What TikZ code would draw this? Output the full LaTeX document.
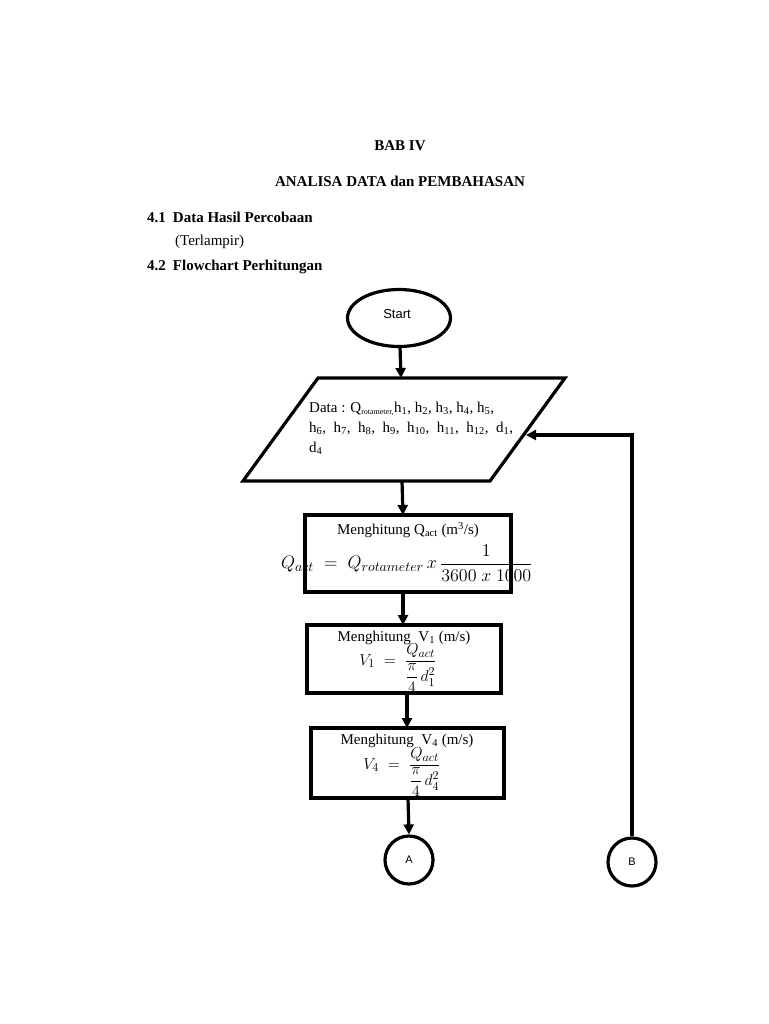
\documentclass[tikz,border=0pt]{standalone}
\usepackage{fontspec}
\setmainfont{Liberation Serif}
\setsansfont{Liberation Sans}
\usepackage{amsmath}
\usepackage{graphicx}
\usetikzlibrary{shapes.geometric,arrows.meta}
\begin{document}
\begin{tikzpicture}[x=1pt,y=-1pt,
  every node/.style={font=\fontsize{15}{18}\selectfont},
  ln/.style={line width=3.2pt},
  arr/.style={ln,-{Triangle[length=10pt,width=10pt]}}]
\useasboundingbox (0,0) rectangle (768,1024);
\node[font=\fontsize{15}{18}\selectfont\bfseries] (t1) at (400,146) {BAB IV};
\node[font=\fontsize{15}{18}\selectfont\bfseries] (t2) at (400,181) {ANALISA DATA dan PEMBAHASAN};
\node[anchor=west,font=\fontsize{15}{18}\selectfont\bfseries,inner sep=0] (s1) at (147,217) {4.1\hspace{7pt}Data Hasil Percobaan};
\node[anchor=west,inner sep=0] (s1b) at (175,242) {(Terlampir)};
\node[anchor=west,font=\fontsize{15}{18}\selectfont\bfseries,inner sep=0] (s2) at (147,267) {4.2\hspace{7pt}Flowchart Perhitungan};
% start
\draw[ln] (399,318) ellipse [x radius=51.5, y radius=28.5];
\node[font=\sffamily\fontsize{13}{15}\selectfont] (start) at (397,314) {Start};
\coordinate (sb) at (400,346.5);
% parallelogram
\draw[ln] (318,378) -- (565,378) -- (490,481) -- (243,481) -- cycle;
\coordinate (pt) at (401,378);
\coordinate (pb) at (402,481);
\coordinate (pr) at (526,435);
\node[anchor=north west,align=left,inner sep=0,font=\fontsize{15}{20}\selectfont] (data) at (309,402)
 {Data : Q\textsubscript{\fontsize{8}{8}\selectfont rotameter,}h\textsubscript{1}, h\textsubscript{2}, h\textsubscript{3}, h\textsubscript{4}, h\textsubscript{5},\\
 h\textsubscript{6}, \ h\textsubscript{7}, \ h\textsubscript{8}, \ h\textsubscript{9}, \ h\textsubscript{10}, \ h\textsubscript{11}, \ h\textsubscript{12}, \ d\textsubscript{1},\\
 d\textsubscript{4}};
% boxes
\draw[ln] (305,515) rectangle (511,592);
\node (m1) at (408,530) {Menghitung Q\textsubscript{act} (m\textsuperscript{3}/s)};
\node (f1) at (407,563) {\scalebox{1.25}{$Q_{act}\;=\;Q_{rotameter}\,x\,\dfrac{1}{3600\ x\ 1000}$}};
\draw[ln] (307,625) rectangle (501,693);
\node (m2) at (404,638) {Menghitung \ V\textsubscript{1} (m/s)};
\node (f2) at (398,668) {\scalebox{1.1}{$V_1\;=\;\dfrac{Q_{act}}{\dfrac{\pi}{4}\,d_1^2}$}};
\draw[ln] (311,728) rectangle (504,798);
\node (m3) at (407,741) {Menghitung \ V\textsubscript{4} (m/s)};
\node (f3) at (402,772) {\scalebox{1.1}{$V_4\;=\;\dfrac{Q_{act}}{\dfrac{\pi}{4}\,d_4^2}$}};
% connectors
\draw[arr] (sb) -- (pt);
\draw[arr] (pb) -- (403,515);
\draw[arr] (403,592) -- (403,625);
\draw[arr] (407,693) -- (407,728);
\node[draw,circle,line width=3.2pt,minimum size=48pt,inner sep=0,font=\sffamily\fontsize{11}{13}\selectfont] (A) at (409,860) {A};
\node[draw,circle,line width=3.2pt,minimum size=48pt,inner sep=0,font=\sffamily\fontsize{11}{13}\selectfont] (B) at (632,862) {B};
\draw[arr] (408,798) -- (A.north);
\draw[arr] (B.north) -- (632,435) -- (pr);
\end{tikzpicture}
\end{document}
